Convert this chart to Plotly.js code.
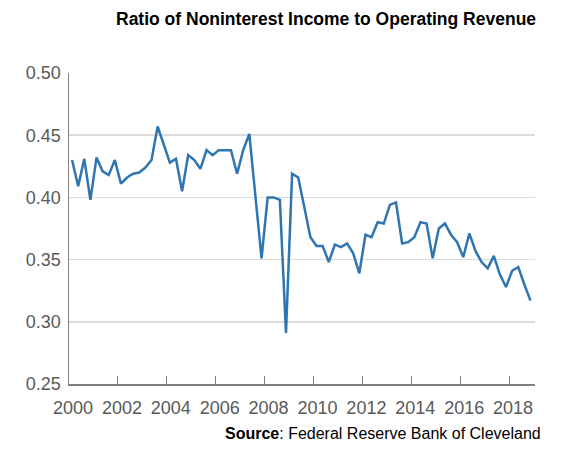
<!DOCTYPE html>
<html>
<head>
<meta charset="utf-8">
<script src="https://cdn.plot.ly/plotly-3.0.1.min.js"></script>
<style>html,body{margin:0;padding:0;background:#fff;}#chart{width:577px;height:450px;}</style>
</head>
<body>
<div id="chart"></div>
<script>
// Quarterly data, 2000Q1 - 2018Q4
const startYear = 2000;
const ratio = [
  0.430, 0.409, 0.431, 0.398, 0.432, 0.421, 0.418, 0.430,
  0.411, 0.416, 0.419, 0.420, 0.424, 0.430, 0.457, 0.442,
  0.428, 0.431, 0.405, 0.434, 0.430, 0.423, 0.438, 0.434,
  0.438, 0.438, 0.438, 0.419, 0.438, 0.451, 0.400, 0.351,
  0.400, 0.400, 0.398, 0.291, 0.419, 0.416, 0.392, 0.368,
  0.361, 0.361, 0.348, 0.362, 0.360, 0.363, 0.355, 0.339,
  0.370, 0.368, 0.380, 0.379, 0.394, 0.396, 0.363, 0.364,
  0.368, 0.380, 0.379, 0.351, 0.375, 0.379, 0.370, 0.364,
  0.352, 0.371, 0.357, 0.348, 0.343, 0.353, 0.338, 0.328,
  0.341, 0.344, 0.330, 0.317
];
const tickYears = [2000, 2002, 2004, 2006, 2008, 2010, 2012, 2014, 2016, 2018];
const tickLabels = ['2000', '2002', '2004', '2006', '2008', '2010', '2012', '2014', '2016', '2018'];
const yTicks = [0.25, 0.30, 0.35, 0.40, 0.45, 0.50];
const yTickLabels = ['0.25', '0.30', '0.35', '0.40', '0.45', '0.50'];
const titleText = 'Ratio of Noninterest Income to Operating Revenue';
const sourceText = '<b>Source</b>: Federal Reserve Bank of Cleveland';

// quarter midpoints as fractional years
const x = ratio.map((v, i) => startYear + (i + 0.5) / 4);

const font = 'Arial, "Liberation Sans", sans-serif';

Plotly.newPlot('chart', [{
  x: x, y: ratio, type: 'scatter', mode: 'lines',
  line: {color: '#2e75b2', width: 2.5},
  hoverinfo: 'skip'
}], {
  width: 577, height: 450,
  margin: {l: 69, r: 42, t: 73, b: 66},
  paper_bgcolor: '#fff', plot_bgcolor: '#fff',
  showlegend: false,
  font: {family: font, color: '#595959'},
  xaxis: {
    range: [2000, 2019.06], tickvals: tickYears, ticktext: tickLabels,
    ticks: 'inside', ticklen: 8, tickwidth: 1, tickcolor: '#7f7f7f',
    showline: true, linecolor: '#7f7f7f', linewidth: 1.5,
    showgrid: false, zeroline: false,
    tickfont: {size: 18, color: '#595959'}, ticklabelshift: 4, ticklabelstandoff: 7
  },
  yaxis: {
    range: [0.25, 0.50], tickvals: yTicks, ticktext: yTickLabels,
    ticks: '', showline: true, linecolor: '#7f7f7f', linewidth: 1.5,
    showgrid: true, gridcolor: '#dcdcdc', gridwidth: 1.5, zeroline: false,
    tickfont: {size: 18, color: '#595959'}, ticklabelstandoff: 3
  },
  annotations: [
    {text: '<b>' + titleText + '</b>', xref: 'paper', yref: 'paper',
     x: 1.0064, y: 1.175, xanchor: 'right', yanchor: 'middle', showarrow: false,
     font: {family: font, size: 17.5, color: '#000'}},
    {text: sourceText, xref: 'paper', yref: 'paper',
     x: 1.017, y: -0.158, xanchor: 'right', yanchor: 'middle', showarrow: false,
     font: {family: font, size: 16, color: '#000'}}
  ]
}, {displayModeBar: false, staticPlot: true});
</script>
</body>
</html>
